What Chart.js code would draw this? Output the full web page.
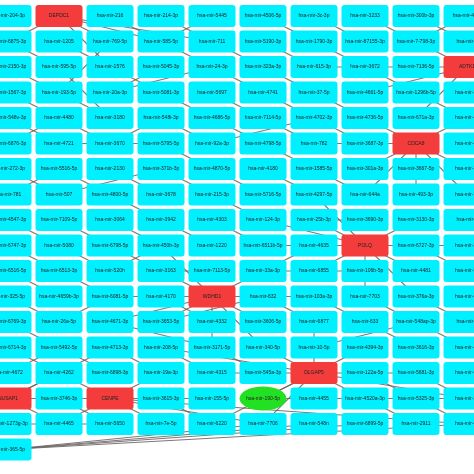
<!DOCTYPE html>
<html><head><meta charset="utf-8">
<script src="https://cdn.jsdelivr.net/npm/chart.js@4"></script>
<style>html,body{margin:0;padding:0;background:#fff}#w{width:474px;height:474px}</style>
</head><body><div id="w"><canvas id="c"></canvas></div>
<script>
const rowLabels = [
 ["hsa-mir-204-3p","DEPDC1","hsa-mir-216","hsa-mir-214-3p","hsa-mir-5445","hsa-mir-4506-5p","hsa-mir-3c-3p","hsa-mir-3233","hsa-mir-300b-3p","hsa-mir-4-3p"],
 ["hsa-mir-6875-3p","hsa-mir-1205","hsa-mir-769-5p","hsa-mir-585-5p","hsa-mir-711","hsa-mir-5190-3p","hsa-mir-1790-3p","hsa-mir-87155-3p","hsa-mir-7-798-3p","hsa-mir-4"],
 ["hsa-mir-2150-3p","hsa-mir-595-5p","hsa-mir-1576","hsa-mir-5045-3p","hsa-mir-24-3p","hsa-mir-323a-3p","hsa-mir-615-3p","hsa-mir-3672","hsa-mir-7136-5p","ADTK1"],
 ["hsa-mir-1567-3p","hsa-mir-193-5p","hsa-mir-20a-3p","hsa-mir-5081-3p","hsa-mir-5697","hsa-mir-4741","hsa-mir-37-5p","hsa-mir-4661-5p","hsa-mir-1296b-5p","hsa-mir-33"],
 ["hsa-mir-548v-3p","hsa-mir-4480","hsa-mir-3180","hsa-mir-548i-3p","hsa-mir-4686-5p","hsa-mir-7114-5p","hsa-mir-4702-3p","hsa-mir-4736-5p","hsa-mir-671a-3p","hsa-mir-47"],
 ["hsa-mir-6876-3p","hsa-mir-4721","hsa-mir-3670","hsa-mir-5795-5p","hsa-mir-92a-3p","hsa-mir-4798-5p","hsa-mir-782","hsa-mir-3687-3p","CDCA8","hsa-mir-41"],
 ["hsa-mir-272-3p","hsa-mir-5516-5p","hsa-mir-2130","hsa-mir-371b-3p","hsa-mir-4870-5p","hsa-mir-4180","hsa-mir-1585-5p","hsa-mir-301a-3p","hsa-mir-3667-5p","hsa-mir-32"],
 ["hsa-mir-781","hsa-mir-507","hsa-mir-4800-5p","hsa-mir-3678","hsa-mir-215-3p","hsa-mir-5716-5p","hsa-mir-4297-5p","hsa-mir-644a","hsa-mir-493-3p","hsa-mir-76"],
 ["hsa-mir-4547-3p","hsa-mir-7109-5p","hsa-mir-3064","hsa-mir-3942","hsa-mir-4303","hsa-mir-124-3p","hsa-mir-25b-3p","hsa-mir-3690-3p","hsa-mir-3130-3p","hsa-mir-1"],
 ["hsa-mir-6747-3p","hsa-mir-5080","hsa-mir-6798-5p","hsa-mir-450b-3p","hsa-mir-1220","hsa-mir-6511b-5p","hsa-mir-4635","POLQ","hsa-mir-6727-3p","hsa-mir-33"],
 ["hsa-mir-6516-5p","hsa-mir-6513-3p","hsa-mir-520h","hsa-mir-3163","hsa-mir-7113-5p","hsa-mir-33a-3p","hsa-mir-6855","hsa-mir-106b-5p","hsa-mir-4481","hsa-mir-52"],
 ["hsa-mir-325-5p","hsa-mir-4659b-3p","hsa-mir-6081-5p","hsa-mir-4170","WDHD1","hsa-mir-632","hsa-mir-103a-3p","hsa-mir-7703","hsa-mir-376a-3p","hsa-mir-63"],
 ["hsa-mir-6769-3p","hsa-mir-26a-5p","hsa-mir-4671-3p","hsa-mir-3653-5p","hsa-mir-4332","hsa-mir-3606-5p","hsa-mir-6877","hsa-mir-633","hsa-mir-548ap-3p","hsa-mir-1"],
 ["hsa-mir-6714-3p","hsa-mir-5492-5p","hsa-mir-4713-3p","hsa-mir-208-5p","hsa-mir-3171-5p","hsa-mir-340-5p","hsa-mir-10-5p","hsa-mir-4394-3p","hsa-mir-3616-3p","hsa-mir-46"],
 ["hsa-mir-4672","hsa-mir-4262","hsa-mir-6898-3p","hsa-mir-19a-3p","hsa-mir-4315","hsa-mir-545a-3p","DLGAP5","hsa-mir-122a-5p","hsa-mir-5681-3p","hsa-mir-62"],
 ["NUSAP1","hsa-mir-3746-3p","CENPE","hsa-mir-3615-3p","hsa-mir-155-5p","hsa-mir-190-5p","hsa-mir-4455","hsa-mir-4520a-3p","hsa-mir-5325-3p","hsa-mir-27"],
 ["hsa-mir-1273g-3p","hsa-mir-4465","hsa-mir-5650","hsa-mir-7e-5p","hsa-mir-6220","hsa-mir-7706","hsa-mir-548n","hsa-mir-6899-5p","hsa-mir-2911","hsa-mir-62"],
 ["hsa-mir-365-5p"]
];
const redNodes = ["DEPDC1","ADTK1","CDCA8","POLQ","WDHD1","DLGAP5","CENPE","NUSAP1"];
const greenNodes = ["hsa-mir-190-5p"];
// edges: [col1,row1,col2,row2]
const edges = [
 [1,0,2,1],[1,0,0,1],[1,0,3,1],[1,0,2,2],[1,0,4,1],[0,1,1,2],[2,1,1,3],[3,2,2,3],[1,2,2,4],[0,3,1,4],
 [2,2,3,3],[3,3,4,4],[4,2,5,3],[5,2,6,3],[6,1,7,2],[7,2,8,3],[8,2,9,2],[9,2,8,1],[9,2,8,4],[7,3,9,2],
 [8,5,7,4],[8,5,9,4],[8,5,7,6],[8,5,9,6],[8,5,6,5],[8,5,8,7],[8,5,7,7],[8,5,9,7],[6,4,7,5],[5,5,6,6],
 [7,9,6,8],[7,9,8,8],[7,9,6,10],[7,9,8,10],[7,9,5,9],[7,9,9,9],[7,9,7,11],[7,9,6,7],[7,9,8,11],[7,9,5,8],
 [4,11,3,10],[4,11,5,10],[4,11,3,12],[4,11,5,12],[4,11,2,11],[4,11,6,11],[4,11,4,13],[4,11,3,9],[4,11,5,13],[4,11,2,12],
 [6,14,5,13],[6,14,7,13],[6,14,5,15],[6,14,7,15],[6,14,4,14],[6,14,8,14],[6,14,6,12],[6,14,5,16],[6,14,9,15],[6,14,3,13],
 [2,15,1,14],[2,15,3,14],[2,15,1,16],[2,15,3,16],[2,15,5,16],[2,15,9,16],[0,15,1,16],[0,15,1,14],[0,15,2,13],[0,15,4,15],
 [5,15,6,14],[5,15,4,16],[5,15,9,15],[0,17,6,16],[0,17,9,16],[0,17,7,16],[0,17,5,16],[0,14,1,13],[1,12,2,11],[2,10,3,9],
 [1,8,2,9],[0,7,1,6],[2,6,3,7],[3,8,4,9],[1,10,2,11],[3,5,4,6],[2,5,3,4],[0,10,1,11],[4,7,5,8],[3,11,4,12],
 [0,5,1,4],[9,0,8,1],[5,0,6,1],[4,0,3,1],[6,9,5,10],[8,12,9,13],[7,12,8,13],[1,6,2,7],[0,12,1,13],[3,13,4,14],
 [1,1,2,2],[2,0,3,1],[3,0,4,1],[6,0,7,1],[7,0,8,1],[8,0,9,1],[4,1,5,2],[5,1,6,2],[0,2,1,3],[3,1,4,2],
 [4,3,5,4],[5,3,6,4],[6,3,7,4],[8,3,9,4],[1,3,2,4],[0,4,1,5],[1,4,2,5],[3,4,4,5],[4,4,5,5],[5,4,6,5],
 [0,6,1,7],[2,7,3,8],[3,6,4,7],[4,6,5,7],[5,6,6,7],[6,6,7,7],[0,8,1,9],[2,8,3,9],[4,8,5,9],[6,8,7,8],
 [8,9,9,10],[0,9,1,10],[1,9,2,10],[2,9,3,10],[3,10,4,10],[5,11,6,12],[6,11,7,12],[7,11,8,12],[8,11,9,12],[0,11,1,12],
 [1,13,2,14],[2,13,3,14],[4,13,5,14],[7,14,8,15],[8,14,9,15],[0,13,1,14],[3,15,4,16],[7,15,8,16],[8,15,9,16],[1,15,2,16],
 [1,7,3,6],[2,3,4,2],[5,10,7,10],[6,13,8,12],[3,12,5,11],[1,5,3,5],[6,2,8,2],[0,16,2,16],[4,5,6,4],[2,12,4,13]
];
const pts = [];
rowLabels.forEach((row,r)=>row.forEach((l,c)=>pts.push({x:c,y:r,label:l})));
const netPlugin = {
 id:'net',
 beforeDatasetsDraw(chart){
  const {ctx,scales:{x,y}} = chart;
  ctx.save(); ctx.strokeStyle='rgba(105,95,95,0.85)'; ctx.lineWidth=1.1;
  edges.forEach(e=>{ctx.beginPath();ctx.moveTo(x.getPixelForValue(e[0]),y.getPixelForValue(e[1]));ctx.lineTo(x.getPixelForValue(e[2]),y.getPixelForValue(e[3]));ctx.stroke();});
  ctx.restore();
 },
 afterDatasetsDraw(chart){
  const {ctx} = chart; const meta = chart.getDatasetMeta(0);
  ctx.save(); ctx.textAlign='center'; ctx.textBaseline='middle'; ctx.font='5px "Liberation Sans", Arial';
  meta.data.forEach((el,i)=>{
   const p = pts[i]; const w=47,h=22;
   const isR = redNodes.includes(p.label), isG = greenNodes.includes(p.label);
   ctx.fillStyle = isR ? '#f53c3c' : isG ? '#22e022' : '#00f0ff';
   ctx.beginPath();
   if(isG){ctx.ellipse(el.x,el.y,w/2,h/2+1,0,0,Math.PI*2);} else {ctx.roundRect(el.x-w/2,el.y-h/2,w,h,3);}
   ctx.fill();
   ctx.fillStyle='#222'; ctx.fillText(p.label, el.x, el.y);
  });
  ctx.restore();
 }
};
new Chart(document.getElementById('c'),{
 type:'scatter',
 data:{datasets:[{data:pts,pointRadius:0,pointHoverRadius:0}]},
 options:{responsive:true,maintainAspectRatio:false,animation:false,
  layout:{padding:0},
  plugins:{legend:{display:false},tooltip:{enabled:false}},
  scales:{
   x:{type:'linear',min:-0.157,max:9.137,display:false},
   y:{type:'linear',min:-0.627,max:17.96,reverse:true,display:false}
  }},
 plugins:[netPlugin]
});
</script></body></html>
